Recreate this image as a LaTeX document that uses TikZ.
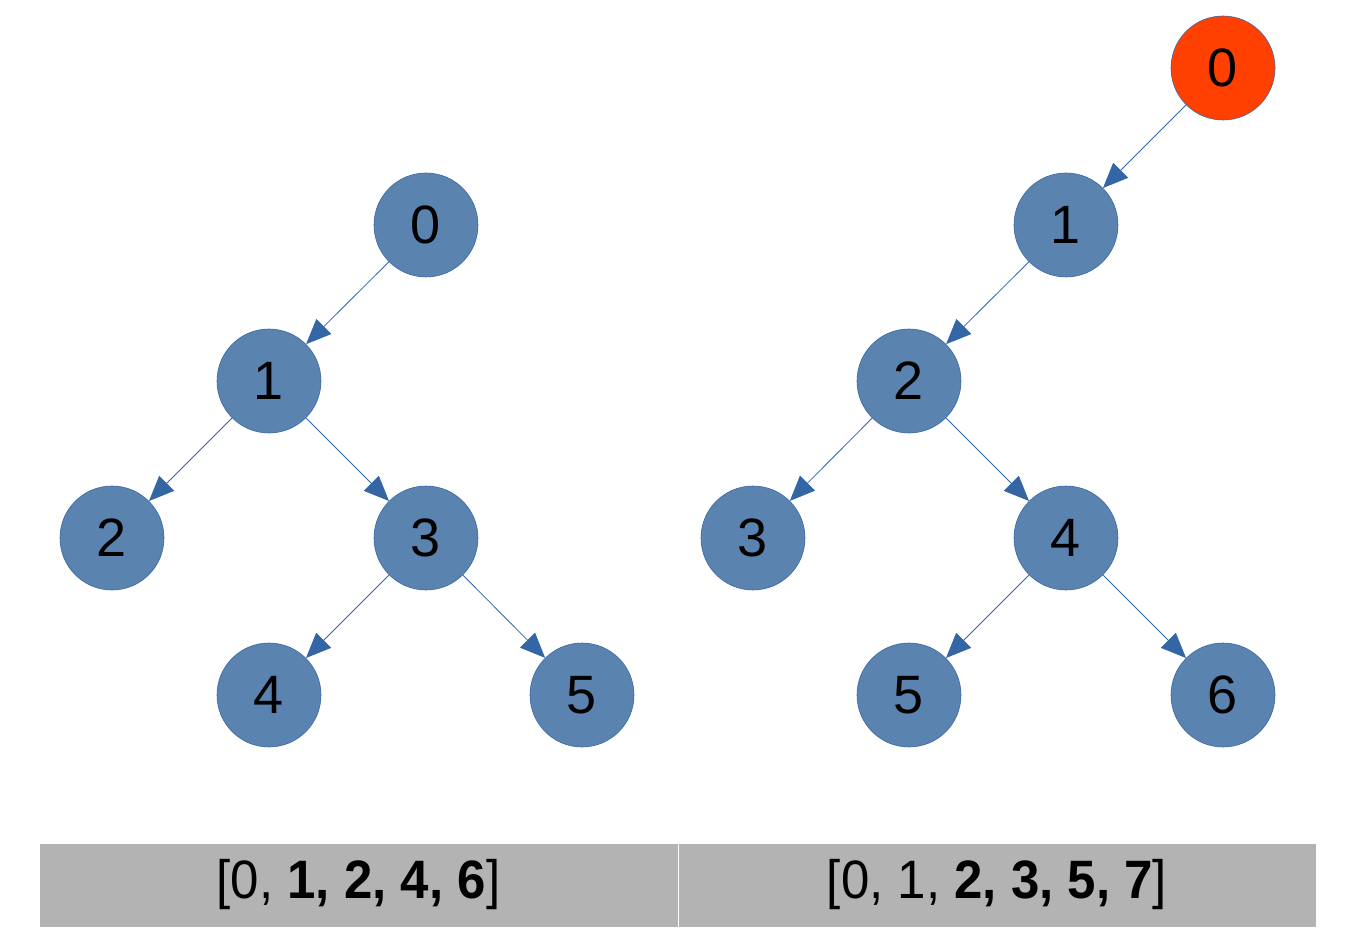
\documentclass[tikz,border=0pt]{standalone}
\usepackage{fontspec}
\setmainfont{Liberation Sans}
\usetikzlibrary{arrows.meta}
\definecolor{nodefill}{HTML}{5A83B0}
\definecolor{nodeline}{HTML}{3A67A2}
\definecolor{edgecol}{HTML}{3465A4}
\definecolor{rootred}{HTML}{FF4000}
\definecolor{bargray}{HTML}{B3B3B3}
\begin{document}
\begin{tikzpicture}[x=1pt,y=-1pt,
  tnode/.style={circle,draw=nodeline,line width=0.6pt,fill=nodefill,minimum size=104pt,inner sep=0pt,font=\fontsize{54}{54}\selectfont},
  rnode/.style={tnode,fill=rootred},
  edge/.style={draw=edgecol,line width=0.8pt,-{Triangle[length=25pt,width=21pt]}},
  bar/.style={fill=bargray,draw=white,line width=1pt,inner sep=0pt,font=\fontsize{51}{51}\selectfont}]
\useasboundingbox (0,0) rectangle (1358,952);
% left tree
\node[tnode] (a0) at (426,225) {0};
\node[tnode] (a1) at (269,381) {1};
\node[tnode] (a2) at (112,538) {2};
\node[tnode] (a3) at (426,538) {3};
\node[tnode] (a4) at (269,695) {4};
\node[tnode] (a5) at (582,695) {5};
\draw[edge] (a0) -- (a1);
\draw[edge] (a1) -- (a2);
\draw[edge] (a1) -- (a3);
\draw[edge] (a3) -- (a4);
\draw[edge] (a3) -- (a5);
% right tree
\node[rnode] (b0) at (1223,68) {0};
\node[tnode] (b1) at (1066,225) {1};
\node[tnode] (b2) at (909,381) {2};
\node[tnode] (b3) at (753,538) {3};
\node[tnode] (b4) at (1066,538) {4};
\node[tnode] (b5) at (909,695) {5};
\node[tnode] (b6) at (1223,695) {6};
\draw[edge] (b0) -- (b1);
\draw[edge] (b1) -- (b2);
\draw[edge] (b2) -- (b3);
\draw[edge] (b2) -- (b4);
\draw[edge] (b4) -- (b5);
\draw[edge] (b4) -- (b6);
% bars
\node[bar,minimum width=639pt,minimum height=84pt] (l) at (358.5,885) {\scalebox{1}[1.06]{[0, \textbf{1, 2, 4, 6}]}};
\node[bar,minimum width=638pt,minimum height=84pt] (r) at (997,885) {\scalebox{1}[1.06]{[0, 1, \textbf{2, 3, 5, 7}]}};
\end{tikzpicture}
\end{document}
